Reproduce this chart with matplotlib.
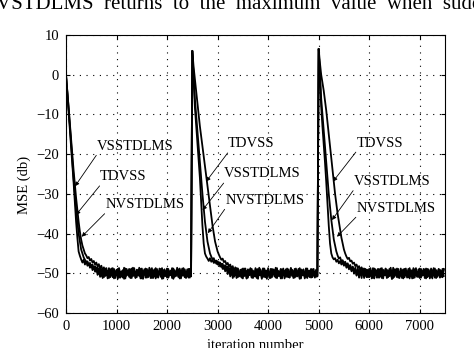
import numpy as np
import matplotlib.pyplot as plt

plt.rcParams['font.family'] = ['Liberation Serif', 'DejaVu Serif']
plt.rcParams['axes.unicode_minus'] = True

step = 25                      # iterations between stored samples
seg_starts = [0, 2500, 5000]   # the system changes at these iterations

# MSE (dB), one value every 25 iterations, 100 values per segment
vss_seg1 = [0, -4.5, -9, -13.5, -18, -22.5, -27, -32, -37, -41,
            -44.5, -45.6, -46.5, -47.3, -46.6, -47.8, -47.0, -48.1, -47.5, -48.6,
            -47.9, -49.2, -48.3, -49.6, -48.6, -50.4, -48.8, -50.9, -49.1, -51.2,
            -48.9, -50.7, -49.4, -51.3, -48.7, -50.5, -49.6, -51.0, -48.9, -50.8,
            -49.3, -51.4, -48.8, -50.6, -49.5, -51.1, -48.6, -50.9, -49.7, -50.3,
            -48.9, -51.2, -49.2, -50.7, -48.7, -51.0, -49.8, -50.5, -49.0, -51.3,
            -48.8, -50.6, -49.4, -51.1, -49.1, -50.4, -48.6, -51.2, -49.6, -50.8,
            -49.0, -51.3, -48.9, -50.5, -49.5, -50.9, -48.7, -51.0, -49.3, -50.6,
            -48.8, -51.1, -49.7, -50.4, -48.9, -51.4, -49.2, -50.7, -48.6, -50.9,
            -49.4, -51.0, -48.8, -50.6, -49.6, -51.2, -49.0, -50.5, -48.9, -50.8]
vss_seg2 = [6, -1, -8, -12.5, -17, -21.5, -26, -32, -38, -42.5,
            -45, -45.8, -46.3, -46.9, -46.2, -47.1, -46.6, -47.4, -46.8, -47.6,
            -47.0, -47.9, -47.3, -48.4, -47.6, -48.9, -48.0, -49.3, -48.3, -49.8,
            -48.7, -50.4, -48.9, -50.9, -49.2, -51.2, -48.8, -50.6, -49.5, -51.0,
            -49.1, -50.7, -48.8, -51.3, -49.6, -50.4, -48.9, -51.1, -49.3, -50.8,
            -48.7, -51.0, -49.5, -50.5, -49.0, -51.4, -48.8, -50.9, -49.7, -50.3,
            -49.2, -51.2, -48.9, -50.6, -49.4, -50.8, -48.6, -51.1, -49.8, -50.5,
            -48.9, -50.9, -49.3, -51.3, -49.0, -50.4, -49.6, -51.0, -48.7, -50.7,
            -49.5, -51.1, -48.8, -50.6, -49.2, -51.4, -49.0, -50.5, -49.7, -50.9,
            -48.8, -51.2, -49.4, -50.7, -48.9, -51.0, -49.6, -50.4, -49.1, -50.8]
vss_seg3 = [6.5, -1, -8, -13, -17.5, -22, -27, -32.5, -38, -42.5,
            -45, -46.0, -46.5, -46.2, -47.1, -46.6, -47.5, -46.9, -47.8, -47.2,
            -48.1, -47.5, -48.6, -47.9, -49.0, -48.2, -49.5, -48.5, -50.1, -48.8,
            -50.6, -49.0, -51.1, -48.8, -50.5, -49.4, -51.2, -48.9, -50.8, -49.6,
            -51.0, -49.2, -50.4, -48.7, -51.3, -49.5, -50.6, -49.0, -51.1, -48.8,
            -50.9, -49.7, -50.3, -48.9, -51.2, -49.3, -50.7, -49.1, -51.4, -48.6,
            -50.5, -49.8, -51.0, -48.9, -50.6, -49.4, -51.2, -49.0, -50.4, -48.8,
            -51.1, -49.6, -50.7, -49.2, -51.3, -48.7, -50.5, -49.5, -50.9, -49.0,
            -51.2, -48.9, -50.6, -49.7, -50.3, -48.8, -51.0, -49.3, -50.8, -49.1,
            -51.3, -48.7, -50.5, -49.6, -50.9, -49.0, -51.1, -49.4, -50.6, -48.9]

nvs_seg1 = [0, -4, -8, -12.5, -17, -21.5, -26, -30, -34, -37,
            -40, -42, -44, -45, -46, -46.6, -47.2, -47.0, -47.9, -47.4,
            -48.4, -47.8, -48.9, -48.2, -49.6, -48.5, -50.2, -48.8, -50.7, -49.1,
            -51.0, -48.8, -50.5, -49.4, -51.2, -49.0, -50.6, -48.7, -51.3, -49.5,
            -50.4, -48.9, -51.1, -49.7, -50.8, -49.2, -51.4, -48.8, -50.6, -49.3,
            -50.9, -49.0, -51.2, -48.6, -50.5, -49.6, -51.0, -49.1, -50.7, -48.9,
            -51.3, -49.4, -50.4, -48.8, -51.1, -49.7, -50.6, -49.0, -51.2, -49.3,
            -50.8, -48.7, -51.0, -49.5, -50.3, -48.9, -51.4, -49.2, -50.7, -49.6,
            -51.1, -48.9, -50.5, -49.3, -51.2, -48.8, -50.9, -49.7, -50.4, -49.0,
            -51.3, -49.2, -50.6, -48.7, -51.0, -49.5, -50.8, -48.9, -51.1, -49.4]
nvs_seg2 = [6, 0, -6, -10, -14, -18, -22, -26, -30, -33.5,
            -37, -39.5, -42, -43.5, -45, -45.8, -46.5, -46.2, -47.3, -46.8,
            -47.8, -47.2, -48.3, -47.6, -48.9, -48.0, -49.5, -48.3, -50.2, -48.6,
            -50.8, -48.9, -51.2, -49.3, -50.5, -48.7, -51.0, -49.6, -50.7, -49.0,
            -51.3, -48.8, -50.6, -49.4, -51.1, -49.1, -50.4, -48.9, -51.2, -49.7,
            -50.8, -49.0, -51.4, -48.6, -50.5, -49.5, -50.9, -48.8, -51.0, -49.3,
            -50.6, -49.8, -51.2, -48.9, -50.3, -49.2, -51.1, -48.7, -50.7, -49.6,
            -51.3, -49.0, -50.5, -49.4, -50.9, -48.8, -51.0, -49.7, -50.4, -49.1,
            -51.2, -48.9, -50.8, -49.5, -50.6, -48.7, -51.3, -49.2, -50.5, -49.8,
            -51.0, -48.8, -50.7, -49.3, -51.1, -49.0, -50.6, -49.6, -50.9, -49.2]
nvs_seg3 = [6.5, 0, -6, -10, -14, -18, -22, -26, -30, -33.3,
            -36.5, -39, -41.5, -43, -44.5, -45.5, -46.3, -46.0, -47.0, -46.7,
            -47.5, -47.1, -47.9, -47.5, -48.6, -47.9, -49.2, -48.3, -49.8, -48.6,
            -50.4, -48.9, -50.9, -49.2, -51.2, -48.8, -50.6, -49.5, -51.0, -49.1,
            -50.7, -48.7, -51.3, -49.6, -50.4, -49.0, -51.1, -48.9, -50.8, -49.4,
            -51.2, -49.1, -50.5, -48.8, -51.0, -49.7, -50.6, -48.6, -51.4, -49.3,
            -50.9, -49.0, -50.4, -49.5, -51.2, -48.8, -50.7, -49.2, -51.0, -49.8,
            -50.5, -48.9, -51.3, -49.4, -50.6, -49.1, -51.1, -48.7, -50.8, -49.6,
            -51.0, -49.3, -50.4, -48.9, -51.2, -49.5, -50.7, -49.0, -51.3, -48.8,
            -50.6, -49.4, -51.1, -49.2, -50.5, -48.9, -50.9, -49.6, -51.0, -49.1]

tdv_seg1 = [0, -4, -8, -12, -16, -20, -24, -27.5, -31, -34,
            -37, -39.5, -41.5, -43, -44, -45, -45.5, -46.2, -45.9, -46.8,
            -46.4, -47.3, -46.9, -47.8, -47.3, -48.3, -47.7, -48.8, -48.1, -49.4,
            -48.5, -50.0, -48.7, -50.6, -49.0, -51.0, -48.8, -50.7, -49.4, -51.2,
            -49.1, -50.5, -48.7, -51.1, -49.6, -50.8, -49.0, -51.3, -48.9, -50.4,
            -49.5, -51.0, -48.8, -50.6, -49.3, -51.2, -49.1, -50.5, -48.6, -50.9,
            -49.7, -51.4, -49.0, -50.3, -48.9, -51.0, -49.4, -50.8, -48.7, -51.2,
            -49.2, -50.6, -49.6, -51.1, -48.8, -50.4, -49.3, -51.3, -49.0, -50.7,
            -48.9, -51.0, -49.5, -50.5, -48.7, -51.2, -49.8, -50.6, -49.1, -50.9,
            -48.8, -51.3, -49.4, -50.4, -49.0, -50.8, -49.6, -51.1, -48.9, -50.6]
tdv_seg2 = [6, 2, -1, -4, -7, -10, -13, -15.5, -18, -20.5,
            -23, -25.5, -28, -30.5, -33, -35.5, -38, -40, -42, -43.3,
            -44.5, -45.3, -46.0, -46.6, -46.3, -47.2, -46.9, -47.8, -47.4, -48.3,
            -47.8, -48.9, -48.2, -49.6, -48.5, -50.3, -48.8, -50.8, -49.1, -51.1,
            -48.8, -50.6, -49.4, -51.3, -49.0, -50.5, -48.7, -51.0, -49.6, -50.7,
            -49.2, -51.2, -48.9, -50.4, -49.5, -51.1, -48.8, -50.8, -49.3, -51.4,
            -48.7, -50.6, -49.7, -51.0, -49.0, -50.3, -48.9, -51.2, -49.4, -50.7,
            -49.1, -51.3, -48.8, -50.5, -49.6, -50.9, -49.0, -51.1, -48.7, -50.4,
            -49.5, -51.0, -49.2, -50.8, -48.9, -51.2, -49.7, -50.5, -49.0, -51.3,
            -48.8, -50.6, -49.4, -51.0, -49.1, -50.7, -48.9, -51.1, -49.5, -50.5]
tdv_seg3 = [6.5, 3, 0, -2, -4, -6.5, -9, -12, -15, -18,
            -21, -24, -27, -30, -32.5, -35, -37, -39, -41, -42.5,
            -44, -45, -45.8, -46.4, -46.1, -47.0, -46.8, -47.6, -47.3, -48.2,
            -47.8, -48.7, -48.2, -49.3, -48.5, -50.0, -48.8, -50.6, -49.1, -51.0,
            -48.9, -50.7, -49.5, -51.2, -48.8, -50.4, -49.3, -51.1, -49.0, -50.8,
            -48.7, -51.3, -49.6, -50.5, -49.1, -51.0, -48.9, -50.6, -49.4, -51.2,
            -49.0, -50.4, -48.8, -51.1, -49.7, -50.7, -49.2, -51.3, -48.9, -50.5,
            -49.5, -51.0, -48.7, -50.8, -49.3, -51.2, -49.0, -50.6, -49.6, -50.9,
            -48.8, -51.1, -49.4, -50.5, -49.0, -51.3, -48.9, -50.7, -49.5, -51.0,
            -49.2, -50.6, -48.8, -51.2, -49.6, -50.4, -49.1, -50.9, -48.9, -50.7]

curves = {
    'VSSTDLMS': [vss_seg1, vss_seg2, vss_seg3],
    'NVSTDLMS': [nvs_seg1, nvs_seg2, nvs_seg3],
    'TDVSS': [tdv_seg1, tdv_seg2, tdv_seg3],
}

# label text (left x, centre y) and arrow head (x, y) for each curve, per segment
labels = [
    ('VSSTDLMS', (610, -18.0), (178, -28.1)),
    ('TDVSS', (675, -25.7), (198, -35.3)),
    ('NVSTDLMS', (775, -32.7), (311, -40.8)),
    ('TDVSS', (3210, -17.4), (2774, -26.9)),
    ('VSSTDLMS', (3130, -25.0), (2701, -34.1)),
    ('NVSTDLMS', (3150, -31.6), (2808, -39.9)),
    ('TDVSS', (5746, -17.2), (5284, -26.9)),
    ('VSSTDLMS', (5692, -26.9), (5264, -36.6)),
    ('NVSTDLMS', (5746, -33.6), (5363, -40.8)),
]

xticks = [0, 1000, 2000, 3000, 4000, 5000, 6000, 7000]
yticks = [10, 0, -10, -20, -30, -40, -50, -60]

fig = plt.figure(figsize=(4.74, 3.48), dpi=100)
ax = fig.add_axes([0.1392, 0.1006, 0.7996, 0.7989])

for name, segs in curves.items():
    xs, ys = [], []
    for start, seg in zip(seg_starts, segs):
        xs.extend(start + step * np.arange(len(seg)))
        ys.extend(seg)
    ax.plot(xs, ys, color='black', lw=1.3)

for text, (tx, ty), (hx, hy) in labels:
    ax.text(tx, ty, text, fontsize=10.5, ha='left', va='center')
    ax.annotate('', xy=(hx, hy), xytext=(tx - 10, ty - 2.3),
                arrowprops=dict(arrowstyle='-|>', color='black', lw=0.6,
                                mutation_scale=6, shrinkA=0, shrinkB=0))

ax.set_xlim(0, 7500)
ax.set_ylim(-60, 10)
ax.set_xticks(xticks)
ax.set_yticks(yticks)
ax.tick_params(direction='in', length=3, width=0.8, top=True, right=True,
               labelsize=10.5, pad=5)
ax.grid(True, color='black', linestyle=(0, (1, 5)), lw=0.8)
for sp in ax.spines.values():
    sp.set_linewidth(0.8)

ax.set_xlabel('iteration number', fontsize=10.5)
ax.xaxis.set_label_coords(0.5, -0.095)
ax.set_ylabel('MSE (db)', fontsize=10.5)
ax.yaxis.set_label_coords(-0.092, 0.46)

# running text of the page above the figure, cut by the crop
fig.text(-0.04, 0.974, 'NVSTDLMS  returns  to  the  maximum  value  when  sudden',
         fontsize=15, ha='left', va='baseline')

fig.savefig('out.png', dpi=100)
